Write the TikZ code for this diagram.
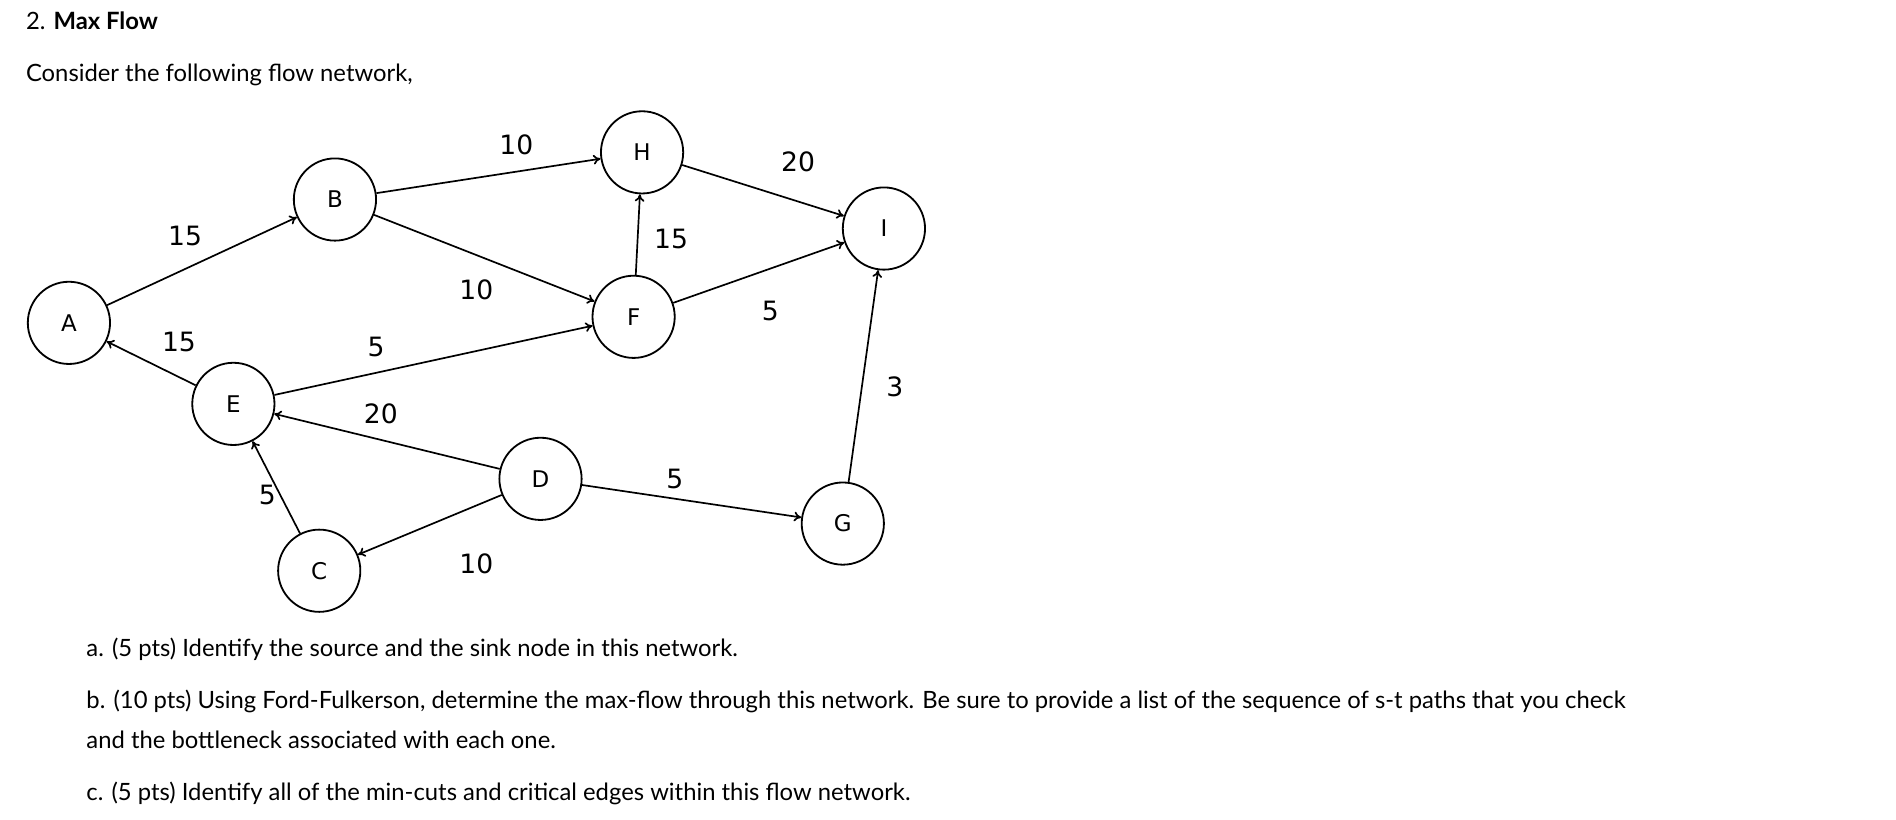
\documentclass[tikz,border=0pt]{standalone}
\usepackage{fontspec}
\setmainfont{Lato}
\newfontfamily\gfont{DejaVu Sans}
\usetikzlibrary{arrows.meta}
\begin{document}
\begin{tikzpicture}[x=1pt,y=-1pt,
 nd/.style={circle,draw,line width=1.5pt,minimum size=68pt,inner sep=0pt,font=\gfont\fontsize{19}{22}\selectfont},
 ed/.style={draw,line width=1.4pt,-{To[length=6pt,width=8pt]}},
 lb/.style={font=\gfont\fontsize{22}{26}\selectfont},
 tx/.style={anchor=west,font=\fontsize{19.7}{24}\selectfont}]
\useasboundingbox (0,0) rectangle (1568,678);
\node[nd] (A) at (57,267) {A};
\node[nd] (B) at (277,165) {B};
\node[nd] (H) at (531,126) {H};
\node[nd] (I) at (731,189) {I};
\node[nd] (F) at (524,262) {F};
\node[nd] (E) at (193,334) {E};
\node[nd] (D) at (447,396) {D};
\node[nd] (G) at (697,433) {G};
\node[nd] (C) at (264,472) {C};
\draw[ed] (A) -- (B);
\draw[ed] (E) -- (A);
\draw[ed] (B) -- (H);
\draw[ed] (B) -- (F);
\draw[ed] (H) -- (I);
\draw[ed] (F) -- (H);
\draw[ed] (F) -- (I);
\draw[ed] (E) -- (F);
\draw[ed] (D) -- (E);
\draw[ed] (D) -- (G);
\draw[ed] (G) -- (I);
\draw[ed] (D) -- (C);
\draw[ed] (C) -- (E);
\node[lb] (l1) at (153,195) {15};
\node[lb] (l2) at (148,283) {15};
\node[lb] (l3) at (427,120) {10};
\node[lb] (l4) at (660,134) {20};
\node[lb] (l5) at (555,198) {15};
\node[lb] (l6) at (394,240) {10};
\node[lb] (l7) at (637,257) {5};
\node[lb] (l8) at (311,287) {5};
\node[lb] (l9) at (740,320) {3};
\node[lb] (l10) at (315,342) {20};
\node[lb] (l11) at (558,396) {5};
\node[lb] (l12) at (221,409) {5};
\node[lb] (l13) at (394,466) {10};
\node[tx] (t1) at (18,17) {2. \textbf{Max Flow}};
\node[tx] (t2) at (18,62) {Consider the following flow network,};
\node[tx] (t3) at (68,537) {a. (5 pts) Identify the source and the sink node in this network.};
\node[tx] (t4) at (68,580) {b. (10 pts) Using Ford-Fulkerson, determine the max-flow through this network. Be sure to provide a list of the sequence of s-t paths that you check};
\node[tx] (t5) at (68,612) {and the bottleneck associated with each one.};
\node[tx] (t6) at (68,656) {c. (5 pts) Identify all of the min-cuts and critical edges within this flow network.};
\end{tikzpicture}
\end{document}
